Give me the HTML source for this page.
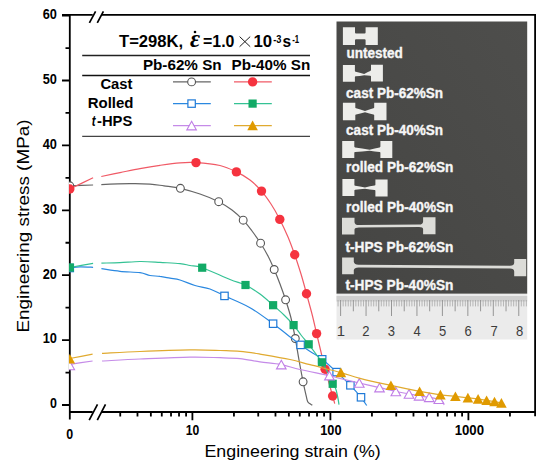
<!DOCTYPE html><html><head><meta charset="utf-8"><style>html,body{margin:0;padding:0;background:#fff;}svg{display:block;}</style></head><body>
<svg width="550" height="470" viewBox="0 0 550 470">
<rect width="550" height="470" fill="#fff"/>
<defs><linearGradient id="pg" x1="1" y1="0" x2="0" y2="1"><stop offset="0" stop-color="#4e4e4c"/><stop offset="1" stop-color="#454543"/></linearGradient></defs>
<rect x="336.5" y="21.5" width="190.7" height="272.3" fill="url(#pg)"/>
<rect x="336.5" y="293.8" width="190.70000000000005" height="45.69999999999999" fill="#ebebeb"/>
<rect x="336.5" y="296" width="190.70000000000005" height="5.5" fill="#cfcfcf"/>
<path d="M338.06 300V306.4 M343.15 300V306.4 M345.69 300V306.4 M348.24 300V306.4 M350.78 300V306.4 M355.87 300V306.4 M358.42 300V306.4 M360.96 300V306.4 M363.51 300V306.4 M368.60 300V306.4 M371.14 300V306.4 M373.69 300V306.4 M376.23 300V306.4 M381.32 300V306.4 M383.87 300V306.4 M386.41 300V306.4 M388.96 300V306.4 M394.05 300V306.4 M396.59 300V306.4 M399.14 300V306.4 M401.68 300V306.4 M406.77 300V306.4 M409.32 300V306.4 M411.86 300V306.4 M414.41 300V306.4 M419.50 300V306.4 M422.04 300V306.4 M424.59 300V306.4 M427.13 300V306.4 M432.22 300V306.4 M434.77 300V306.4 M437.31 300V306.4 M439.86 300V306.4 M444.95 300V306.4 M447.49 300V306.4 M450.04 300V306.4 M452.58 300V306.4 M457.67 300V306.4 M460.22 300V306.4 M462.76 300V306.4 M465.31 300V306.4 M470.40 300V306.4 M472.94 300V306.4 M475.49 300V306.4 M478.03 300V306.4 M483.12 300V306.4 M485.67 300V306.4 M488.21 300V306.4 M490.76 300V306.4 M495.85 300V306.4 M498.39 300V306.4 M500.94 300V306.4 M503.48 300V306.4 M508.57 300V306.4 M511.12 300V306.4 M513.66 300V306.4 M516.21 300V306.4 M521.30 300V306.4 M523.84 300V306.4 M526.39 300V306.4" stroke="#a4a4a4" stroke-width="0.75" fill="none"/>
<path d="M340.60 300V316 M353.33 300V311.3 M366.05 300V316 M378.78 300V311.3 M391.50 300V316 M404.23 300V311.3 M416.95 300V316 M429.68 300V311.3 M442.40 300V316 M455.13 300V311.3 M467.85 300V316 M480.58 300V311.3 M493.30 300V316 M506.03 300V311.3 M518.75 300V316" stroke="#8c8c8c" stroke-width="0.9" fill="none"/>
<path d="M342.9 27.3H355V32.4Q355 33.4 356 33.4H364.6Q365.6 33.4 365.6 32.4V27.3H377.8V44.9H365.6V40.3Q365.6 39.3 364.6 39.3H356Q355 39.3 355 40.3V44.9H342.9Z" fill="#ededea"/>
<path d="M342.9 65H354.9V70.90Q354.9 71.7 355.70 71.7Q359.55 72.47 364.2 73.9Q367.60 71.95 370.20 70.9Q371 70.9 371 70.10V64.7H382.9V81.4H371V76.60Q371 75.8 370.20 75.8Q367.60 75.59 364.2 75.2Q359.55 75.91 355.70 76.3Q354.9 76.3 354.9 77.10V81.8H342.9Z" fill="#ededea"/>
<path d="M342.9 102.7H355.3V107.40Q355.3 108.2 356.10 108.2Q360.15 109.18 365 111Q369.60 109.18 373.40 108.2Q374.2 108.2 374.2 107.40V102.7H386.5V120.2H374.2V115.20Q374.2 114.4 373.40 114.4Q369.60 113.63 365 112.2Q360.15 113.63 356.10 114.4Q355.3 114.4 355.3 115.20V120.2H342.9Z" fill="#ededea"/>
<path d="M342.2 140.9H354.3V146.60Q354.3 147.4 355.10 147.4Q361.95 148.21 369.6 149.7Q375.00 148.21 379.60 147.4Q380.4 147.4 380.4 146.60V140.9H392.3V158H380.4V152.70Q380.4 151.9 379.60 151.9Q375.00 151.48 369.6 150.7Q361.95 151.48 355.10 151.9Q354.3 151.9 354.3 152.70V158H342.2Z" fill="#ededea"/>
<path d="M342.4 179H354.4V185.00Q354.4 185.8 355.20 185.8Q359.70 186.43 365 187.6Q370.20 186.30 374.60 185.6Q375.4 185.6 375.4 184.80V179.5H387.6V196.5H375.4V190.70Q375.4 189.9 374.60 189.9Q370.20 189.48 365 188.7Q359.70 189.35 355.20 189.7Q354.4 189.7 354.4 190.50V196H342.4Z" fill="#ededea"/>
<path d="M342 217.8H354.5V222.2Q355 225.1 358.9 225.1L419 224.6Q423.1 224.6 423.1 221.5V217.2H435.5V234.2H423.1V229.1Q423.1 227 419 227L358.9 227.6Q355 227.6 354.5 229.5V234.5H342Z" fill="#dcdcd8"/>
<path d="M342.1 257.6H353.8V261.8Q354.3 264.7 358.5 264.7L510 265.8Q514.2 265.8 514.2 262.8V259H526.2V276.2H514.2V271.4Q514.2 268.5 510 268.5L358.5 267.5Q354.3 267.5 353.8 270.3V274.2H342.1Z" fill="#dcdcd8"/>
<path d="M69.8 14.0V419.5 M62 14.9H92.7M102 14.9H536.0 M535.1 14.0V416.2 M68.89999999999999 412.0H92.7M102 412.0H536.0 M62 405.00H69.8 M62 340.10H69.8 M62 275.20H69.8 M62 210.30H69.8 M62 145.40H69.8 M62 80.50H69.8 M62 15.60H69.8 M65.5 372.55H69.8 M65.5 307.65H69.8 M65.5 242.75H69.8 M65.5 177.85H69.8 M65.5 112.95H69.8 M65.5 48.05H69.8 M120.24 412.0V416.5 M137.48 412.0V416.5 M150.86 412.0V416.5 M161.78 412.0V416.5 M171.02 412.0V416.5 M179.03 412.0V416.5 M186.09 412.0V416.5 M192.40 412.0V420.3 M233.94 412.0V416.5 M258.24 412.0V416.5 M275.48 412.0V416.5 M288.86 412.0V416.5 M299.78 412.0V416.5 M309.02 412.0V416.5 M317.03 412.0V416.5 M324.09 412.0V416.5 M330.40 412.0V420.3 M371.94 412.0V416.5 M396.24 412.0V416.5 M413.48 412.0V416.5 M426.86 412.0V416.5 M437.78 412.0V416.5 M447.02 412.0V416.5 M455.03 412.0V416.5 M462.09 412.0V416.5 M468.40 412.0V420.3 M509.94 412.0V416.5" stroke="#000" stroke-width="1.8" fill="none"/>
<path d="M89.4 22.8L95.6 11.4M97.3 22.8L103.4 11.4M89.2 420.2L97.5 404.3M97.3 420.2L105.5 404.3" stroke="#000" stroke-width="1.7" fill="none"/>
<path d="M82.2 55.5H310" stroke="#222" stroke-width="1.3" fill="none"/>
<path d="M82.2 75.5H310" stroke="#111" stroke-width="1.5" fill="none"/>
<path d="M82.2 136.3H310" stroke="#444" stroke-width="1.2" fill="none"/>
<circle cx="195" cy="32" r="1.3" fill="#000"/>
<path d="M239.6 36.6L250.2 46.7M250.2 36.6L239.6 46.7" stroke="#111" stroke-width="0.95"/>
<path d="M173.0 81.9H210.79999999999998" stroke="#666" stroke-width="1.4"/>
<circle cx="191.6" cy="81.9" r="3.9" fill="#fff" stroke="#555" stroke-width="1.1"/>
<path d="M234.0 81.9H271.8" stroke="#f05a66" stroke-width="1.4"/>
<circle cx="252.6" cy="81.9" r="4.7" fill="#f5333f"/>
<path d="M173.0 103.6H210.79999999999998" stroke="#2a88e0" stroke-width="1.4"/>
<rect x="187.9" y="99.89999999999999" width="7.4" height="7.4" fill="#fff" stroke="#1f7ad8" stroke-width="1.2"/>
<path d="M234.0 103.6H271.8" stroke="#34c294" stroke-width="1.4"/>
<rect x="248.5" y="99.5" width="8.2" height="8.2" fill="#12aa66"/>
<path d="M173.0 125.6H210.79999999999998" stroke="#c58be8" stroke-width="1.4"/>
<path d="M191.6 121.3L196.4 129.9H186.79999999999998Z" fill="#fff" stroke="#c07ee6" stroke-width="1.1" stroke-linejoin="miter"/>
<path d="M234.0 125.6H271.8" stroke="#e0aa30" stroke-width="1.4"/>
<path d="M252.6 120.6L257.9 130.2H247.29999999999998Z" fill="#e09a00"/>
<defs><clipPath id="pc"><rect x="68.9" y="0" width="480" height="470"/></clipPath></defs>
<g clip-path="url(#pc)">
<path d="M69.8 185.8 C73.7 185.7 89.2 185.1 93.1 185.0 M101.3 184.6 C106.1 184.4 121.9 183.8 130.0 183.7 C138.1 183.6 144.3 183.7 150.0 184.1 C155.7 184.5 158.9 185.2 164.0 185.9 C169.1 186.6 174.4 187.0 180.4 188.3 C186.4 189.7 193.6 191.8 200.0 194.0 C206.4 196.2 213.4 199.0 218.7 201.7 C224.0 204.4 227.9 206.9 232.0 210.0 C236.1 213.1 239.9 216.7 243.2 220.2 C246.5 223.7 249.1 227.2 252.0 231.0 C254.9 234.8 257.9 239.0 260.6 243.2 C263.3 247.4 265.7 251.6 268.0 256.0 C270.3 260.4 272.2 264.8 274.2 269.5 C276.2 274.2 278.1 278.9 280.0 284.0 C281.9 289.1 283.8 294.1 285.6 299.8 C287.4 305.5 289.4 311.6 291.0 318.0 C292.6 324.4 294.0 331.5 295.3 338.5 C296.6 345.5 297.7 352.8 299.0 360.0 C300.3 367.2 301.9 375.9 303.1 381.8 C304.3 387.7 305.2 391.8 306.0 395.1 C306.8 398.4 307.0 400.1 307.6 401.5 C308.2 402.9 308.9 403.0 309.7 403.6 C310.5 404.2 311.9 404.9 312.3 405.2" stroke="#666" stroke-width="1.2" fill="none" stroke-linejoin="round"/>
<circle cx="69.8" cy="185.8" r="3.9" fill="#fff" stroke="#555" stroke-width="1.1"/>
<circle cx="180.4" cy="188.3" r="3.9" fill="#fff" stroke="#555" stroke-width="1.1"/>
<circle cx="218.7" cy="201.7" r="3.9" fill="#fff" stroke="#555" stroke-width="1.1"/>
<circle cx="243.2" cy="220.2" r="3.9" fill="#fff" stroke="#555" stroke-width="1.1"/>
<circle cx="260.6" cy="243.2" r="3.9" fill="#fff" stroke="#555" stroke-width="1.1"/>
<circle cx="274.2" cy="269.5" r="3.9" fill="#fff" stroke="#555" stroke-width="1.1"/>
<circle cx="285.6" cy="299.8" r="3.9" fill="#fff" stroke="#555" stroke-width="1.1"/>
<circle cx="295.3" cy="338.5" r="3.9" fill="#fff" stroke="#555" stroke-width="1.1"/>
<circle cx="303.1" cy="381.8" r="3.9" fill="#fff" stroke="#555" stroke-width="1.1"/>
<path d="M69.8 189.0 C73.7 187.1 89.2 179.6 93.1 177.7 M101.3 176.5 C104.4 175.8 113.5 173.9 120.0 172.6 C126.5 171.3 133.3 169.8 140.0 168.6 C146.7 167.4 153.3 166.3 160.0 165.3 C166.7 164.3 174.0 163.2 180.0 162.8 C186.0 162.4 189.3 162.2 196.0 162.6 C202.7 163.0 213.3 163.9 220.0 165.5 C226.7 167.1 231.4 169.5 236.4 171.9 C241.4 174.3 245.8 176.8 250.0 180.0 C254.2 183.2 258.0 187.1 261.5 191.1 C265.0 195.1 267.9 199.3 271.0 204.0 C274.1 208.7 277.0 213.9 279.8 219.4 C282.6 224.9 285.5 231.1 288.0 237.0 C290.5 242.9 292.5 248.5 294.7 254.7 C296.9 260.9 299.0 267.5 301.0 274.0 C303.0 280.5 304.7 287.0 306.5 293.7 C308.3 300.4 310.3 307.4 312.0 314.0 C313.7 320.6 315.1 327.3 316.6 333.6 C318.1 339.9 319.6 346.1 321.0 352.0 C322.4 357.9 323.8 364.1 325.1 369.3 C326.4 374.5 327.8 378.6 329.0 383.0 C330.2 387.4 331.7 392.6 332.6 396.0 C333.6 399.4 334.4 402.3 334.7 403.6" stroke="#f05a66" stroke-width="1.2" fill="none" stroke-linejoin="round"/>
<circle cx="69.8" cy="189" r="4.7" fill="#f5333f"/>
<circle cx="196" cy="162.6" r="4.7" fill="#f5333f"/>
<circle cx="236.4" cy="171.9" r="4.7" fill="#f5333f"/>
<circle cx="261.5" cy="191.1" r="4.7" fill="#f5333f"/>
<circle cx="279.8" cy="219.4" r="4.7" fill="#f5333f"/>
<circle cx="294.7" cy="254.7" r="4.7" fill="#f5333f"/>
<circle cx="306.5" cy="293.7" r="4.7" fill="#f5333f"/>
<circle cx="316.6" cy="333.6" r="4.7" fill="#f5333f"/>
<circle cx="325.1" cy="369.3" r="4.7" fill="#f5333f"/>
<circle cx="332.6" cy="396" r="4.7" fill="#f5333f"/>
<path d="M69.8 268.0 C71.5 267.8 76.1 266.9 80.0 266.8 C83.9 266.7 90.9 267.2 93.1 267.3 M101.4 268.7 C104.5 269.1 113.6 270.6 120.0 271.3 C126.4 272.0 135.0 272.0 140.0 272.7 C145.0 273.4 146.7 274.9 150.0 275.5 C153.3 276.1 156.7 275.9 160.0 276.4 C163.3 276.8 166.7 277.6 170.0 278.2 C173.3 278.8 175.8 278.8 180.0 280.0 C184.2 281.2 190.0 284.0 195.0 285.5 C200.0 287.0 205.1 287.3 210.0 289.0 C214.9 290.7 217.8 292.8 224.5 295.9 C231.2 299.0 241.9 303.1 250.0 307.7 C258.1 312.3 266.9 319.2 273.1 323.7 C279.3 328.2 282.4 331.0 287.0 334.5 C291.6 338.0 296.6 342.0 300.6 344.9 C304.6 347.8 307.4 349.6 311.0 352.0 C314.6 354.4 317.9 355.9 322.2 359.3 C326.5 362.7 331.9 367.8 336.6 372.1 C341.3 376.4 346.3 381.1 350.4 385.3 C354.5 389.5 358.3 393.9 361.0 397.3 C363.7 400.7 365.8 404.1 366.7 405.5" stroke="#2a88e0" stroke-width="1.2" fill="none" stroke-linejoin="round"/>
<rect x="66.1" y="264.3" width="7.4" height="7.4" fill="#fff" stroke="#1f7ad8" stroke-width="1.2"/>
<rect x="220.8" y="292.2" width="7.4" height="7.4" fill="#fff" stroke="#1f7ad8" stroke-width="1.2"/>
<rect x="269.40000000000003" y="320.0" width="7.4" height="7.4" fill="#fff" stroke="#1f7ad8" stroke-width="1.2"/>
<rect x="296.90000000000003" y="341.2" width="7.4" height="7.4" fill="#fff" stroke="#1f7ad8" stroke-width="1.2"/>
<rect x="318.5" y="355.6" width="7.4" height="7.4" fill="#fff" stroke="#1f7ad8" stroke-width="1.2"/>
<rect x="332.90000000000003" y="368.40000000000003" width="7.4" height="7.4" fill="#fff" stroke="#1f7ad8" stroke-width="1.2"/>
<rect x="346.7" y="381.6" width="7.4" height="7.4" fill="#fff" stroke="#1f7ad8" stroke-width="1.2"/>
<rect x="357.3" y="393.6" width="7.4" height="7.4" fill="#fff" stroke="#1f7ad8" stroke-width="1.2"/>
<path d="M69.8 267.5 C73.7 266.8 89.2 264.1 93.1 263.4 M101.4 263.1 C104.5 263.0 113.6 263.0 120.0 262.7 C126.4 262.4 133.3 261.6 140.0 261.5 C146.7 261.4 153.3 262.0 160.0 262.4 C166.7 262.8 175.0 263.1 180.0 263.6 C185.0 264.1 186.3 264.8 190.0 265.5 C193.7 266.2 195.5 265.4 202.2 267.7 C208.9 270.0 222.8 276.6 230.0 279.5 C237.2 282.4 240.5 282.6 245.5 285.0 C250.5 287.4 255.4 290.7 260.0 294.1 C264.6 297.5 269.1 301.7 273.1 305.2 C277.1 308.7 280.6 311.7 284.0 315.0 C287.4 318.3 290.8 321.8 293.6 325.1 C296.4 328.4 298.5 331.8 301.0 335.0 C303.5 338.2 306.2 341.1 308.7 344.3 C311.2 347.5 313.8 351.0 316.0 354.0 C318.2 357.0 319.9 359.1 321.9 362.3 C323.9 365.5 326.2 369.4 328.0 373.0 C329.8 376.6 331.4 381.2 332.7 383.8 C334.0 386.4 334.9 386.7 335.7 388.7 C336.5 390.7 336.9 393.3 337.5 396.0 C338.1 398.7 338.8 403.2 339.0 404.7" stroke="#34c294" stroke-width="1.2" fill="none" stroke-linejoin="round"/>
<rect x="65.7" y="263.4" width="8.2" height="8.2" fill="#12aa66"/>
<rect x="198.1" y="263.59999999999997" width="8.2" height="8.2" fill="#12aa66"/>
<rect x="241.4" y="280.9" width="8.2" height="8.2" fill="#12aa66"/>
<rect x="269.0" y="301.09999999999997" width="8.2" height="8.2" fill="#12aa66"/>
<rect x="289.5" y="321.0" width="8.2" height="8.2" fill="#12aa66"/>
<rect x="304.59999999999997" y="340.2" width="8.2" height="8.2" fill="#12aa66"/>
<rect x="317.79999999999995" y="358.2" width="8.2" height="8.2" fill="#12aa66"/>
<rect x="328.59999999999997" y="379.7" width="8.2" height="8.2" fill="#12aa66"/>
<path d="M69.8 364.4 C73.6 363.8 88.8 361.6 92.6 361.0 M102.0 361.0 C108.3 360.7 125.3 359.6 140.0 359.0 C154.7 358.4 176.7 357.4 190.0 357.2 C203.3 357.0 211.7 357.5 220.0 357.7 C228.3 357.9 233.3 357.9 240.0 358.6 C246.7 359.3 253.1 360.9 260.0 361.9 C266.9 362.9 274.6 363.3 281.3 364.6 C288.0 365.9 292.0 367.7 300.0 369.5 C308.0 371.3 322.7 374.1 329.4 375.6 C336.1 377.1 335.0 377.3 340.0 378.5 C345.0 379.7 352.7 381.5 359.3 383.0 C365.9 384.5 373.4 386.2 379.5 387.6 C385.6 389.0 390.9 390.4 395.8 391.5 C400.7 392.6 405.1 393.2 409.0 393.9 C412.9 394.6 415.7 395.2 419.1 395.8 C422.5 396.4 425.9 396.7 429.2 397.3 C432.5 397.9 436.7 398.6 438.8 399.2 C440.9 399.8 441.1 400.1 442.0 401.0 C442.9 401.9 443.8 404.2 444.2 404.8" stroke="#c58be8" stroke-width="1.2" fill="none" stroke-linejoin="round"/>
<path d="M69.8 361.2L74.6 369.8H65.0Z" fill="#fff" stroke="#c07ee6" stroke-width="1.1" stroke-linejoin="miter"/>
<path d="M281.3 360.3L286.1 368.90000000000003H276.5Z" fill="#fff" stroke="#c07ee6" stroke-width="1.1" stroke-linejoin="miter"/>
<path d="M329.4 371.3L334.2 379.90000000000003H324.59999999999997Z" fill="#fff" stroke="#c07ee6" stroke-width="1.1" stroke-linejoin="miter"/>
<path d="M359.3 378.7L364.1 387.3H354.5Z" fill="#fff" stroke="#c07ee6" stroke-width="1.1" stroke-linejoin="miter"/>
<path d="M379.5 383.3L384.3 391.90000000000003H374.7Z" fill="#fff" stroke="#c07ee6" stroke-width="1.1" stroke-linejoin="miter"/>
<path d="M395.8 387.2L400.6 395.8H391.0Z" fill="#fff" stroke="#c07ee6" stroke-width="1.1" stroke-linejoin="miter"/>
<path d="M409 389.59999999999997L413.8 398.2H404.2Z" fill="#fff" stroke="#c07ee6" stroke-width="1.1" stroke-linejoin="miter"/>
<path d="M419.1 391.5L423.90000000000003 400.1H414.3Z" fill="#fff" stroke="#c07ee6" stroke-width="1.1" stroke-linejoin="miter"/>
<path d="M429.2 393.0L434.0 401.6H424.4Z" fill="#fff" stroke="#c07ee6" stroke-width="1.1" stroke-linejoin="miter"/>
<path d="M438.8 394.9L443.6 403.5H434.0Z" fill="#fff" stroke="#c07ee6" stroke-width="1.1" stroke-linejoin="miter"/>
<path d="M69.8 358.5 C73.6 357.8 88.8 354.9 92.6 354.2 M102.0 353.4 C108.3 353.1 125.3 352.1 140.0 351.5 C154.7 350.9 176.7 350.1 190.0 349.9 C203.3 349.7 211.7 350.2 220.0 350.5 C228.3 350.8 233.3 350.8 240.0 351.4 C246.7 352.0 251.7 352.8 260.0 354.1 C268.3 355.5 281.7 357.7 290.0 359.5 C298.3 361.3 301.5 362.5 310.0 364.7 C318.5 366.9 332.6 370.3 340.9 372.6 C349.2 374.9 351.7 376.2 360.0 378.3 C368.3 380.4 381.0 383.2 390.9 385.4 C400.8 387.6 411.4 389.8 419.6 391.4 C427.9 393.0 434.4 394.0 440.4 394.8 C446.4 395.6 450.8 395.9 455.4 396.4 C460.0 396.9 464.1 397.4 467.9 397.8 C471.7 398.2 475.0 398.7 478.1 399.1 C481.2 399.5 483.9 400.0 486.6 400.4 C489.3 400.8 492.0 401.2 494.5 401.7 C497.0 402.1 500.2 402.9 501.4 403.1" stroke="#e0aa30" stroke-width="1.2" fill="none" stroke-linejoin="round"/>
<path d="M69.8 354L75.1 363.6H64.5Z" fill="#e09a00"/>
<path d="M340.9 367.6L346.2 377.20000000000005H335.59999999999997Z" fill="#e09a00"/>
<path d="M390.9 380.4L396.2 390.0H385.59999999999997Z" fill="#e09a00"/>
<path d="M419.6 386.4L424.90000000000003 396.0H414.3Z" fill="#e09a00"/>
<path d="M440.4 389.8L445.7 399.40000000000003H435.09999999999997Z" fill="#e09a00"/>
<path d="M455.4 391.4L460.7 401.0H450.09999999999997Z" fill="#e09a00"/>
<path d="M467.9 392.8L473.2 402.40000000000003H462.59999999999997Z" fill="#e09a00"/>
<path d="M478.1 394.1L483.40000000000003 403.70000000000005H472.8Z" fill="#e09a00"/>
<path d="M486.6 395.4L491.90000000000003 405.0H481.3Z" fill="#e09a00"/>
<path d="M494.5 396.7L499.8 406.3H489.2Z" fill="#e09a00"/>
<path d="M501.4 398.1L506.7 407.70000000000005H496.09999999999997Z" fill="#e09a00"/>
</g>
<text x="336.82" y="335.5" font-family="Liberation Sans, sans-serif" font-size="14.5" font-weight="normal" font-style="normal" fill="#3c3c3c" textLength="8.29" lengthAdjust="spacingAndGlyphs" >1</text>
<text x="362.25" y="335.5" font-family="Liberation Sans, sans-serif" font-size="14.5" font-weight="normal" font-style="normal" fill="#3c3c3c" textLength="7.26" lengthAdjust="spacingAndGlyphs" >2</text>
<text x="387.85" y="335.5" font-family="Liberation Sans, sans-serif" font-size="14.5" font-weight="normal" font-style="normal" fill="#3c3c3c" textLength="7.26" lengthAdjust="spacingAndGlyphs" >3</text>
<text x="413.40" y="335.5" font-family="Liberation Sans, sans-serif" font-size="14.5" font-weight="normal" font-style="normal" fill="#3c3c3c" textLength="7.26" lengthAdjust="spacingAndGlyphs" >4</text>
<text x="439.00" y="335.5" font-family="Liberation Sans, sans-serif" font-size="14.5" font-weight="normal" font-style="normal" fill="#3c3c3c" textLength="7.26" lengthAdjust="spacingAndGlyphs" >5</text>
<text x="464.60" y="335.5" font-family="Liberation Sans, sans-serif" font-size="14.5" font-weight="normal" font-style="normal" fill="#3c3c3c" textLength="7.26" lengthAdjust="spacingAndGlyphs" >6</text>
<text x="490.40" y="335.5" font-family="Liberation Sans, sans-serif" font-size="14.5" font-weight="normal" font-style="normal" fill="#3c3c3c" textLength="7.26" lengthAdjust="spacingAndGlyphs" >7</text>
<text x="516.00" y="335.5" font-family="Liberation Sans, sans-serif" font-size="14.5" font-weight="normal" font-style="normal" fill="#3c3c3c" textLength="7.26" lengthAdjust="spacingAndGlyphs" >8</text>
<text x="346.40" y="57.7" font-family="Liberation Sans, sans-serif" font-size="13.8" font-weight="bold" font-style="normal" fill="#f6f6f6" textLength="56.42" lengthAdjust="spacingAndGlyphs" stroke="#f6f6f6" stroke-width="0.35">untested</text>
<text x="346.10" y="98.2" font-family="Liberation Sans, sans-serif" font-size="13.8" font-weight="bold" font-style="normal" fill="#f6f6f6" textLength="96.92" lengthAdjust="spacingAndGlyphs" stroke="#f6f6f6" stroke-width="0.35">cast Pb-62%Sn</text>
<text x="346.10" y="134.7" font-family="Liberation Sans, sans-serif" font-size="13.8" font-weight="bold" font-style="normal" fill="#f6f6f6" textLength="96.92" lengthAdjust="spacingAndGlyphs" stroke="#f6f6f6" stroke-width="0.35">cast Pb-40%Sn</text>
<text x="346.10" y="171.7" font-family="Liberation Sans, sans-serif" font-size="13.8" font-weight="bold" font-style="normal" fill="#f6f6f6" textLength="107.32" lengthAdjust="spacingAndGlyphs" stroke="#f6f6f6" stroke-width="0.35">rolled Pb-62%Sn</text>
<text x="346.10" y="211.7" font-family="Liberation Sans, sans-serif" font-size="13.8" font-weight="bold" font-style="normal" fill="#f6f6f6" textLength="107.32" lengthAdjust="spacingAndGlyphs" stroke="#f6f6f6" stroke-width="0.35">rolled Pb-40%Sn</text>
<text x="345.50" y="251.5" font-family="Liberation Sans, sans-serif" font-size="13.8" font-weight="bold" font-style="normal" fill="#f6f6f6" textLength="107.92" lengthAdjust="spacingAndGlyphs" stroke="#f6f6f6" stroke-width="0.35">t-HPS Pb-62%Sn</text>
<text x="345.50" y="289.5" font-family="Liberation Sans, sans-serif" font-size="13.8" font-weight="bold" font-style="normal" fill="#f6f6f6" textLength="107.92" lengthAdjust="spacingAndGlyphs" stroke="#f6f6f6" stroke-width="0.35">t-HPS Pb-40%Sn</text>
<text x="50.00" y="408.3" font-family="Liberation Sans, sans-serif" font-size="14" font-weight="bold" font-style="normal" fill="#000" textLength="6.91" lengthAdjust="spacingAndGlyphs" >0</text>
<text x="42.70" y="343.40000000000003" font-family="Liberation Sans, sans-serif" font-size="14" font-weight="bold" font-style="normal" fill="#000" textLength="14.20" lengthAdjust="spacingAndGlyphs" >10</text>
<text x="42.70" y="278.5" font-family="Liberation Sans, sans-serif" font-size="14" font-weight="bold" font-style="normal" fill="#000" textLength="14.20" lengthAdjust="spacingAndGlyphs" >20</text>
<text x="42.70" y="213.6" font-family="Liberation Sans, sans-serif" font-size="14" font-weight="bold" font-style="normal" fill="#000" textLength="14.20" lengthAdjust="spacingAndGlyphs" >30</text>
<text x="42.70" y="148.7" font-family="Liberation Sans, sans-serif" font-size="14" font-weight="bold" font-style="normal" fill="#000" textLength="14.20" lengthAdjust="spacingAndGlyphs" >40</text>
<text x="42.70" y="83.8" font-family="Liberation Sans, sans-serif" font-size="14" font-weight="bold" font-style="normal" fill="#000" textLength="14.20" lengthAdjust="spacingAndGlyphs" >50</text>
<text x="42.70" y="18.899999999999967" font-family="Liberation Sans, sans-serif" font-size="14" font-weight="bold" font-style="normal" fill="#000" textLength="14.20" lengthAdjust="spacingAndGlyphs" >60</text>
<text x="66.30" y="438.5" font-family="Liberation Sans, sans-serif" font-size="14" font-weight="bold" font-style="normal" fill="#000" textLength="6.91" lengthAdjust="spacingAndGlyphs" >0</text>
<text x="185.70" y="435.3" font-family="Liberation Sans, sans-serif" font-size="14" font-weight="bold" font-style="normal" fill="#000" textLength="13.51" lengthAdjust="spacingAndGlyphs" >10</text>
<text x="320.20" y="435.3" font-family="Liberation Sans, sans-serif" font-size="14" font-weight="bold" font-style="normal" fill="#000" textLength="21.30" lengthAdjust="spacingAndGlyphs" >100</text>
<text x="454.70" y="435.3" font-family="Liberation Sans, sans-serif" font-size="14" font-weight="bold" font-style="normal" fill="#000" textLength="29.30" lengthAdjust="spacingAndGlyphs" >1000</text>
<text x="204.45" y="457.4" font-family="Liberation Sans, sans-serif" font-size="17" font-weight="normal" font-style="normal" fill="#000" textLength="176.24" lengthAdjust="spacingAndGlyphs" >Engineering strain (%)</text>
<text transform="translate(29.1 332.61) rotate(-90)" x="0" y="0" font-family="Liberation Sans, sans-serif" font-size="17" font-weight="normal" font-style="normal" fill="#000" textLength="213.15" lengthAdjust="spacingAndGlyphs" >Engineering stress (MPa)</text>
<text x="119.00" y="47.1" font-family="Liberation Sans, sans-serif" font-size="16" font-weight="bold" font-style="normal" fill="#000" textLength="64.06" lengthAdjust="spacingAndGlyphs" >T=298K,</text>
<text x="190.00" y="47.3" font-family="Liberation Serif, sans-serif" font-size="25.5" font-weight="bold" font-style="italic" fill="#000" textLength="10.08" lengthAdjust="spacingAndGlyphs" >ε</text>
<text x="203.00" y="47.1" font-family="Liberation Sans, sans-serif" font-size="16" font-weight="bold" font-style="normal" fill="#000" textLength="31.40" lengthAdjust="spacingAndGlyphs" >=1.0</text>
<text x="253.45" y="47.1" font-family="Liberation Sans, sans-serif" font-size="16" font-weight="bold" font-style="normal" fill="#000" textLength="18.64" lengthAdjust="spacingAndGlyphs" >10</text>
<text x="273.20" y="42.8" font-family="Liberation Sans, sans-serif" font-size="10" font-weight="bold" font-style="normal" fill="#000" textLength="8.20" lengthAdjust="spacingAndGlyphs" >-3</text>
<text x="282.50" y="47.1" font-family="Liberation Sans, sans-serif" font-size="16" font-weight="bold" font-style="normal" fill="#000" textLength="8.60" lengthAdjust="spacingAndGlyphs" >s</text>
<text x="292.20" y="42.8" font-family="Liberation Sans, sans-serif" font-size="10" font-weight="bold" font-style="normal" fill="#000" textLength="6.96" lengthAdjust="spacingAndGlyphs" >-1</text>
<text x="142.90" y="70.4" font-family="Liberation Sans, sans-serif" font-size="14.5" font-weight="bold" font-style="normal" fill="#000" textLength="78.70" lengthAdjust="spacingAndGlyphs" >Pb-62% Sn</text>
<text x="231.50" y="70.4" font-family="Liberation Sans, sans-serif" font-size="14.5" font-weight="bold" font-style="normal" fill="#000" textLength="78.70" lengthAdjust="spacingAndGlyphs" >Pb-40% Sn</text>
<text x="100.40" y="89.2" font-family="Liberation Sans, sans-serif" font-size="14.5" font-weight="bold" font-style="normal" fill="#000" textLength="32.03" lengthAdjust="spacingAndGlyphs" >Cast</text>
<text x="87.70" y="107.6" font-family="Liberation Sans, sans-serif" font-size="14.5" font-weight="bold" font-style="normal" fill="#000" textLength="45.79" lengthAdjust="spacingAndGlyphs" >Rolled</text>
<text x="91.80" y="126.3" font-family="Liberation Sans, sans-serif" font-size="14.5" font-weight="bold" font-style="italic" fill="#000" textLength="3.78" lengthAdjust="spacingAndGlyphs" >t</text>
<text x="97.00" y="126.3" font-family="Liberation Sans, sans-serif" font-size="14.5" font-weight="bold" font-style="normal" fill="#000" textLength="35.27" lengthAdjust="spacingAndGlyphs" >-HPS</text>
</svg></body></html>
